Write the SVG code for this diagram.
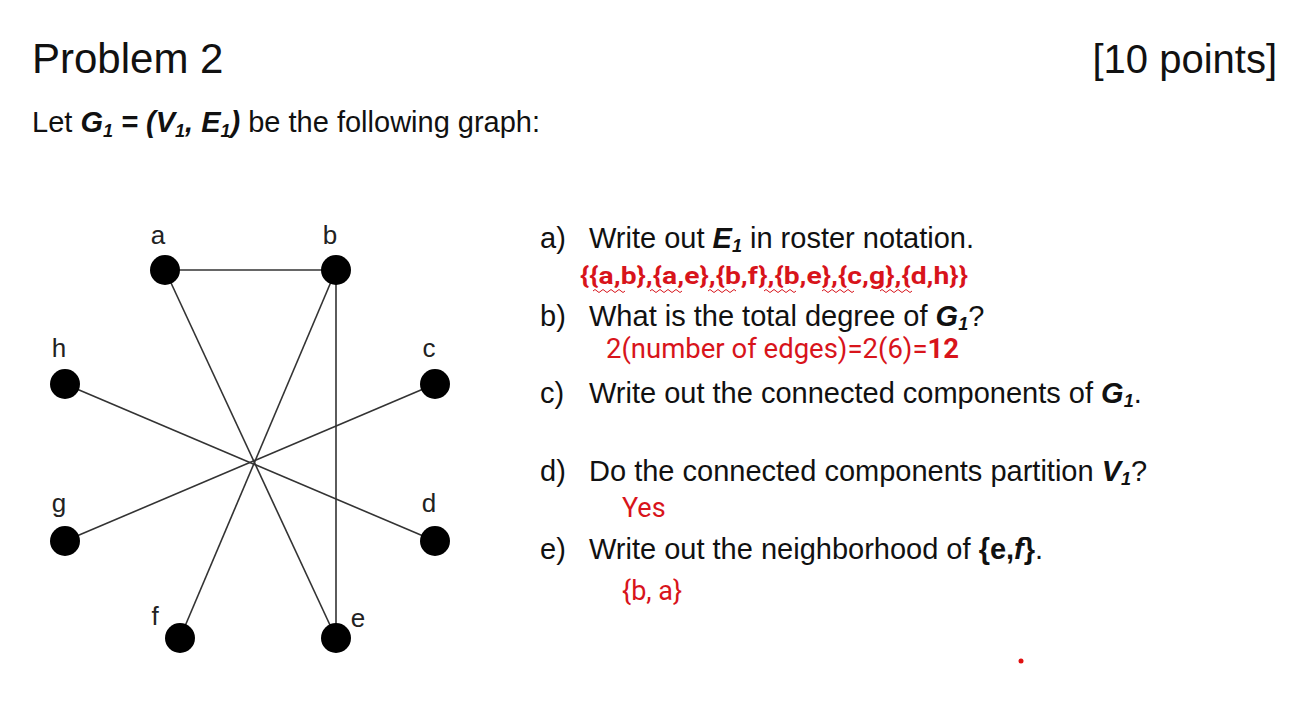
<svg xmlns="http://www.w3.org/2000/svg" width="1308" height="709" viewBox="0 0 1308 709">
<style>
.t{font-family:"Liberation Sans",Arial,sans-serif;fill:#111}
.r{font-family:Roboto,"Liberation Sans",sans-serif;fill:#d8141b}
.lbl{font-family:"Liberation Sans",Arial,sans-serif;font-size:26px;fill:#222;text-anchor:middle}
.e{stroke:#333;stroke-width:1.6}
.n{fill:#000}
.w{fill:none;stroke:#d8141b;stroke-width:1}
</style>
<rect width="1308" height="709" fill="#fff"/>
<text class="t" x="32" y="73" font-size="42">Problem 2</text>
<text class="t" x="1277" y="73" font-size="40" text-anchor="end">[10 points]</text>
<text class="t" x="32" y="132" font-size="29">Let <tspan font-weight="bold" font-style="italic">G<tspan font-size="18" dy="5">1</tspan><tspan dy="-5"> = (V</tspan><tspan font-size="18" dy="5">1</tspan><tspan dy="-5">, E</tspan><tspan font-size="18" dy="5">1</tspan><tspan dy="-5">)</tspan></tspan> be the following graph:</text>
<g id="connectors">
<line class="e" x1="165" y1="270" x2="336" y2="270"/>
<line class="e" x1="165" y1="270" x2="336" y2="638"/>
<line class="e" x1="336" y1="270" x2="180" y2="638"/>
<line class="e" x1="336" y1="270" x2="336" y2="638"/>
<line class="e" x1="435" y1="384" x2="65" y2="541"/>
<line class="e" x1="435" y1="541" x2="65" y2="384"/>
</g>
<g id="node-a"><circle class="n" cx="165" cy="270" r="15"/><text class="lbl" x="158" y="244">a</text></g>
<g id="node-b"><circle class="n" cx="336" cy="270" r="15"/><text class="lbl" x="330" y="244">b</text></g>
<g id="node-h"><circle class="n" cx="65" cy="384" r="15"/><text class="lbl" x="59" y="357">h</text></g>
<g id="node-c"><circle class="n" cx="435" cy="384" r="15"/><text class="lbl" x="429" y="357">c</text></g>
<g id="node-g"><circle class="n" cx="65" cy="541" r="15"/><text class="lbl" x="59" y="512">g</text></g>
<g id="node-d"><circle class="n" cx="435" cy="541" r="15"/><text class="lbl" x="429" y="512">d</text></g>
<g id="node-f"><circle class="n" cx="180" cy="638" r="15"/><text class="lbl" x="155" y="625">f</text></g>
<g id="node-e"><circle class="n" cx="336" cy="638" r="15"/><text class="lbl" x="358" y="627">e</text></g>
<g class="t" font-size="29">
<text x="540" y="248">a)</text><text x="589" y="248">Write out <tspan font-weight="bold" font-style="italic">E<tspan font-size="18" dy="4">1</tspan></tspan><tspan dy="-4"> in roster notation.</tspan></text>
<text x="540" y="326">b)</text><text x="589" y="326">What is the total degree of <tspan font-weight="bold" font-style="italic">G<tspan font-size="18" dy="4">1</tspan></tspan><tspan dy="-4">?</tspan></text>
<text x="540" y="403">c)</text><text x="589" y="403">Write out the connected components of <tspan font-weight="bold" font-style="italic">G<tspan font-size="18" dy="4">1</tspan></tspan><tspan dy="-4">.</tspan></text>
<text x="540" y="481">d)</text><text x="589" y="481">Do the connected components partition <tspan font-weight="bold" font-style="italic">V<tspan font-size="18" dy="4">1</tspan></tspan><tspan dy="-4">?</tspan></text>
<text x="540" y="559">e)</text><text x="589" y="559">Write out the neighborhood of <tspan font-weight="bold">{e,<tspan font-style="italic">f</tspan>}</tspan>.</text>
</g>
<text class="r" x="580" y="284" font-size="24" font-weight="bold" textLength="388" lengthAdjust="spacingAndGlyphs">{{a,b},{a,e},{b,f},{b,e},{c,g},{d,h}}</text>
<path class="w" d="M593 291 q2 -3 4 0 t4 0 t4 0 t4 0 t4 0 t4 0 t4 0 t4 0 M650 291 q2 -3 4 0 t4 0 t4 0 t4 0 t4 0 t4 0 t4 0 t4 0 M708 291 q2 -3 4 0 t4 0 t4 0 t4 0 t4 0 t4 0 t4 0 M764 291 q2 -3 4 0 t4 0 t4 0 t4 0 t4 0 t4 0 t4 0 t4 0 M822 291 q2 -3 4 0 t4 0 t4 0 t4 0 t4 0 t4 0 t4 0 t4 0 M880 291 q2 -3 4 0 t4 0 t4 0 t4 0 t4 0 t4 0 t4 0 t4 0"/>
<text class="r" x="606" y="358" font-size="27.5">2(number of edges)=2(6)=<tspan font-weight="bold">12</tspan></text>
<text class="r" x="622" y="517" font-size="27">Yes</text>
<text class="r" x="622" y="600" font-size="27">{b, a}</text>
<circle cx="1021" cy="661" r="2.5" fill="#e01010"/>
</svg>
